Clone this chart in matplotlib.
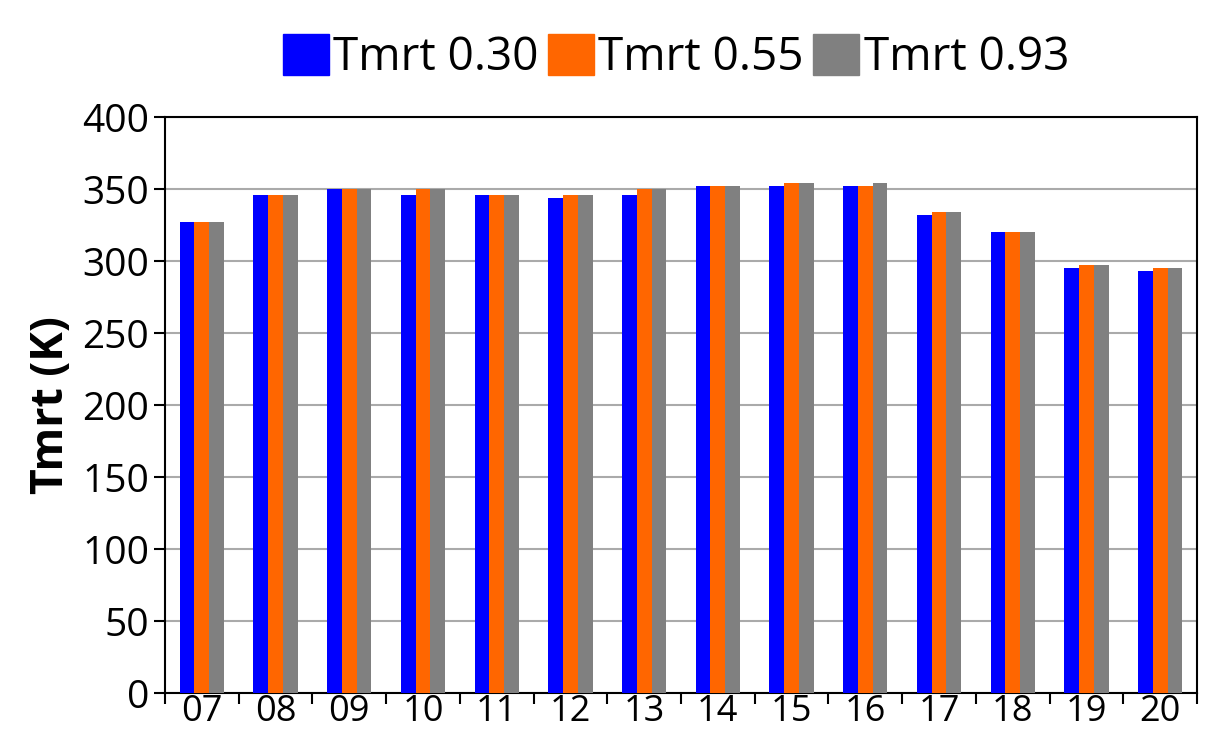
import matplotlib
matplotlib.use("Agg")
import matplotlib.pyplot as plt
import numpy as np
from matplotlib.patches import Patch

hours = ["07","08","09","10","11","12","13","14","15","16","17","18","19","20"]
t030 = [327,346,350,346,346,344,346,352,352,352,332,320,295,293]
t055 = [327,346,350,350,346,346,350,352,354,352,334,320,297,295]
t093 = [327,346,350,350,346,346,350,352,354,354,334,320,297,295]

plt.rcParams['font.family'] = ['Open Sans', 'DejaVu Sans']
fig = plt.figure(figsize=(12.18, 7.32), dpi=100)
ax = fig.add_axes([165/1218, 39/732, 1032/1218, 576/732])
x = np.arange(len(hours))
w = 0.2
ax.bar(x - w, t030, w, color='#0000ff', zorder=3)
ax.bar(x, t055, w, color='#ff6600', zorder=3)
ax.bar(x + w, t093, w, color='#808080', zorder=3)
ax.set_xlim(-0.5, len(hours) - 0.5)
ax.set_ylim(0, 400)
ax.set_yticks(range(0, 401, 50))
ax.yaxis.grid(True, color='#aaaaaa', lw=1.5, zorder=0)
ax.set_xticks(np.arange(-0.5, len(hours), 1))
ax.set_xticklabels([])
ax.set_xticks(x, minor=True)
ax.set_xticklabels(hours, minor=True)
ax.tick_params(axis='x', which='minor', length=0, labelsize=26, pad=1)
ax.tick_params(axis='x', which='major', length=8, width=1.5, direction='out')
ax.tick_params(axis='y', labelsize=28, length=8, width=1.5)
for s in ax.spines.values():
    s.set_linewidth(1.5)
ax.set_ylabel("Tmrt (K)", fontsize=32, fontweight='bold', labelpad=6)
handles = [Patch(color=c) for c in ['#0000ff', '#ff6600', '#808080']]
fig.legend(handles, ["Tmrt 0.30", "Tmrt 0.55", "Tmrt 0.93"], loc='upper center',
           bbox_to_anchor=(0.555, 1.01), ncol=3, frameon=False, fontsize=33,
           handlelength=1.0, handleheight=1.0, handletextpad=0.1, columnspacing=0.2)
fig.savefig("out.png", dpi=100)
